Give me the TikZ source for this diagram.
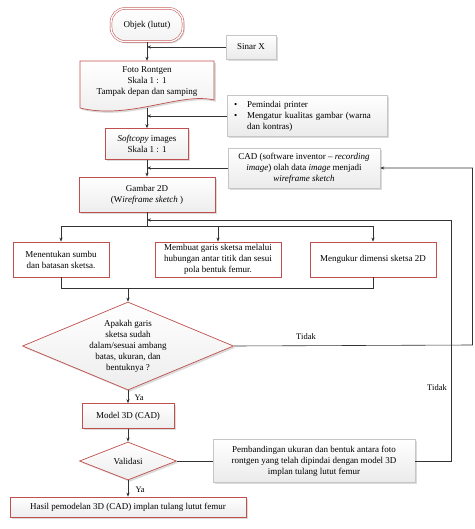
\documentclass[tikz,border=0pt]{standalone}
\usepackage{fontspec}
\setmainfont{Liberation Serif}
\usetikzlibrary{shapes.geometric,shadows,arrows.meta}
\definecolor{rd}{HTML}{C0504D}
\begin{document}
\begin{tikzpicture}[x=1pt,y=-1pt, font=\fontsize{9}{11}\selectfont,
 base/.style={align=center, inner sep=0pt},
 shd/.style={drop shadow={shadow xshift=1.8pt,shadow yshift=-1.8pt,fill=gray!55}},
 redbox/.style={base, shd, draw=rd, line width=0.7pt, top color=white, bottom color=gray!14},
 graybox/.style={base, shd, draw=gray!45, line width=0.6pt, top color=white, bottom color=gray!16},
 plainred/.style={base, draw=rd, line width=0.8pt, fill=white},
 dia/.style={diamond, base, shd, draw=rd, line width=0.7pt, top color=white, bottom color=gray!14},
 arr/.style={-{Stealth[length=4pt,width=3.2pt]}, line width=0.6pt, draw=black!80},
 ln/.style={line width=0.6pt, draw=black!80},
 lab/.style={font=\fontsize{8.5}{10}\selectfont}
]
\fill[white] (0,0) rectangle (474,529);
\path[use as bounding box] (0,0) rectangle (474,529);

% nodes
\node[base, shd, draw=rd, double=white, double distance=1.4pt, line width=0.5pt, rounded corners=14pt,
      top color=white, bottom color=gray!10, minimum width=72pt, minimum height=33pt] (objek) at (147,25) {Objek (lutut)};
\node[graybox, minimum width=50pt, minimum height=24pt] (sinar) at (251,47) {Sinar X};

% document shape of "Foto Rontgen"
\draw[shd, draw=rd, line width=0.7pt, top color=white, bottom color=gray!14]
  (80,61) -- (214,61) -- (214,100) .. controls (180,92) and (130,120) .. (80,108) -- cycle;
\node[base, minimum width=134pt, minimum height=41pt] (foto) at (147,81.5) {Foto Rontgen\\Skala 1 : 1\\Tampak depan dan samping};

\node[graybox, minimum width=160pt, minimum height=41pt, text width=146pt, align=left] (pemindai) at (307,116)
 {\makebox[13pt][l]{•}Pemindai printer\\\makebox[13pt][l]{•}Mengatur kualitas gambar (warna\\\hspace*{13pt}dan kontras)};

\node[redbox, minimum width=83pt, minimum height=31pt] (soft) at (147,144) {\textit{Softcopy} images\\Skala 1 : 1};
\node[graybox, minimum width=152pt, minimum height=40pt] (cad) at (304,168)
 {CAD (software inventor -- \textit{recording}\\\textit{image}) olah data \textit{image} menjadi\\\textit{wireframe sketch}};
\node[redbox, minimum width=136pt, minimum height=35pt] (gambar) at (147,194.5) {Gambar 2D\\(W\textit{ireframe sketch} )};

\node[plainred, minimum width=96pt, minimum height=35pt] (b1) at (61,259.5) {Menentukan sumbu\\dan batasan sketsa.};
\node[plainred, minimum width=126pt, minimum height=35pt] (b2) at (218,259.5) {Membuat garis sketsa melalui\\hubungan antar titik dan sesui\\pola bentuk femur.};
\node[plainred, minimum width=126pt, minimum height=35pt] (b3) at (373,259.5) {Mengukur dimensi sketsa 2D};

\node[dia, minimum width=211pt, minimum height=88pt] (d1) at (128,346) {};
\node[base] (d1t) at (d1.center) {Apakah garis\\sketsa sudah\\dalam/sesuai ambang\\batas, ukuran, dan\\bentuknya ?};

\node[redbox, minimum width=92pt, minimum height=25pt] (model) at (128,416) {Model 3D (CAD)};
\node[dia, minimum width=97pt, minimum height=38pt] (val) at (128,461) {Validasi};
\node[graybox, minimum width=202pt, minimum height=43pt] (cmp) at (314,461)
 {Pembandingan ukuran dan bentuk antara foto\\rontgen yang telah dipindai dengan model 3D\\implan tulang lutut femur};
\node[redbox, minimum width=236pt, minimum height=20pt] (hasil) at (128,507) {Hasil pemodelan 3D (CAD) implan tulang lutut femur};

% connectors
\draw[arr] (objek.south) -- (foto.north);
\draw[arr] (sinar.west) -- (sinar.west -| objek.south);
\draw[arr] ([yshift=-6pt]foto.south) -- (soft.north);
\draw[arr] (pemindai.west) -- (pemindai.west -| foto.south);
\draw[arr] (soft.south) -- (gambar.north);
\draw[arr] (cad.west) -- (cad.west -| soft.south);

\coordinate (split) at (147,226);
\draw[ln] (gambar.south) -- (split);
\draw[ln] (b1.north |- split) -- (b3.north |- split);
\draw[arr] (b1.north |- split) -- (b1.north);
\draw[arr] (b2.north |- split) -- (b2.north);
\draw[arr] (b3.north |- split) -- (b3.north);

\coordinate (merge) at (128,288);
\draw[ln] (b1.south) -- (b1.south |- merge) -- (b3.south |- merge) -- (b3.south);
\draw[arr] (merge) -- (d1.north);

\coordinate (rt) at (472.5,345);
\draw[arr] (d1.east) -- (rt) |- (cad.east);
\node[lab] (tidak1) at (306,337) {Tidak};

\draw[arr] (d1.south) -- (model.north);
\node[lab, anchor=west] (ya1) at (131,398) {Ya};
\draw[arr] (model.south) -- (val.north);
\draw[ln] (val.east) -- (cmp.west);

\coordinate (fb) at (451,220);
\draw[arr] (cmp.east) -| (fb) -- (fb -| gambar.south);
\node[lab] (tidak2) at (437,388) {Tidak};

\draw[arr] (val.south) -- (hasil.north);
\node[lab, anchor=west] (ya2) at (132,490) {Ya};
\end{tikzpicture}
\end{document}
